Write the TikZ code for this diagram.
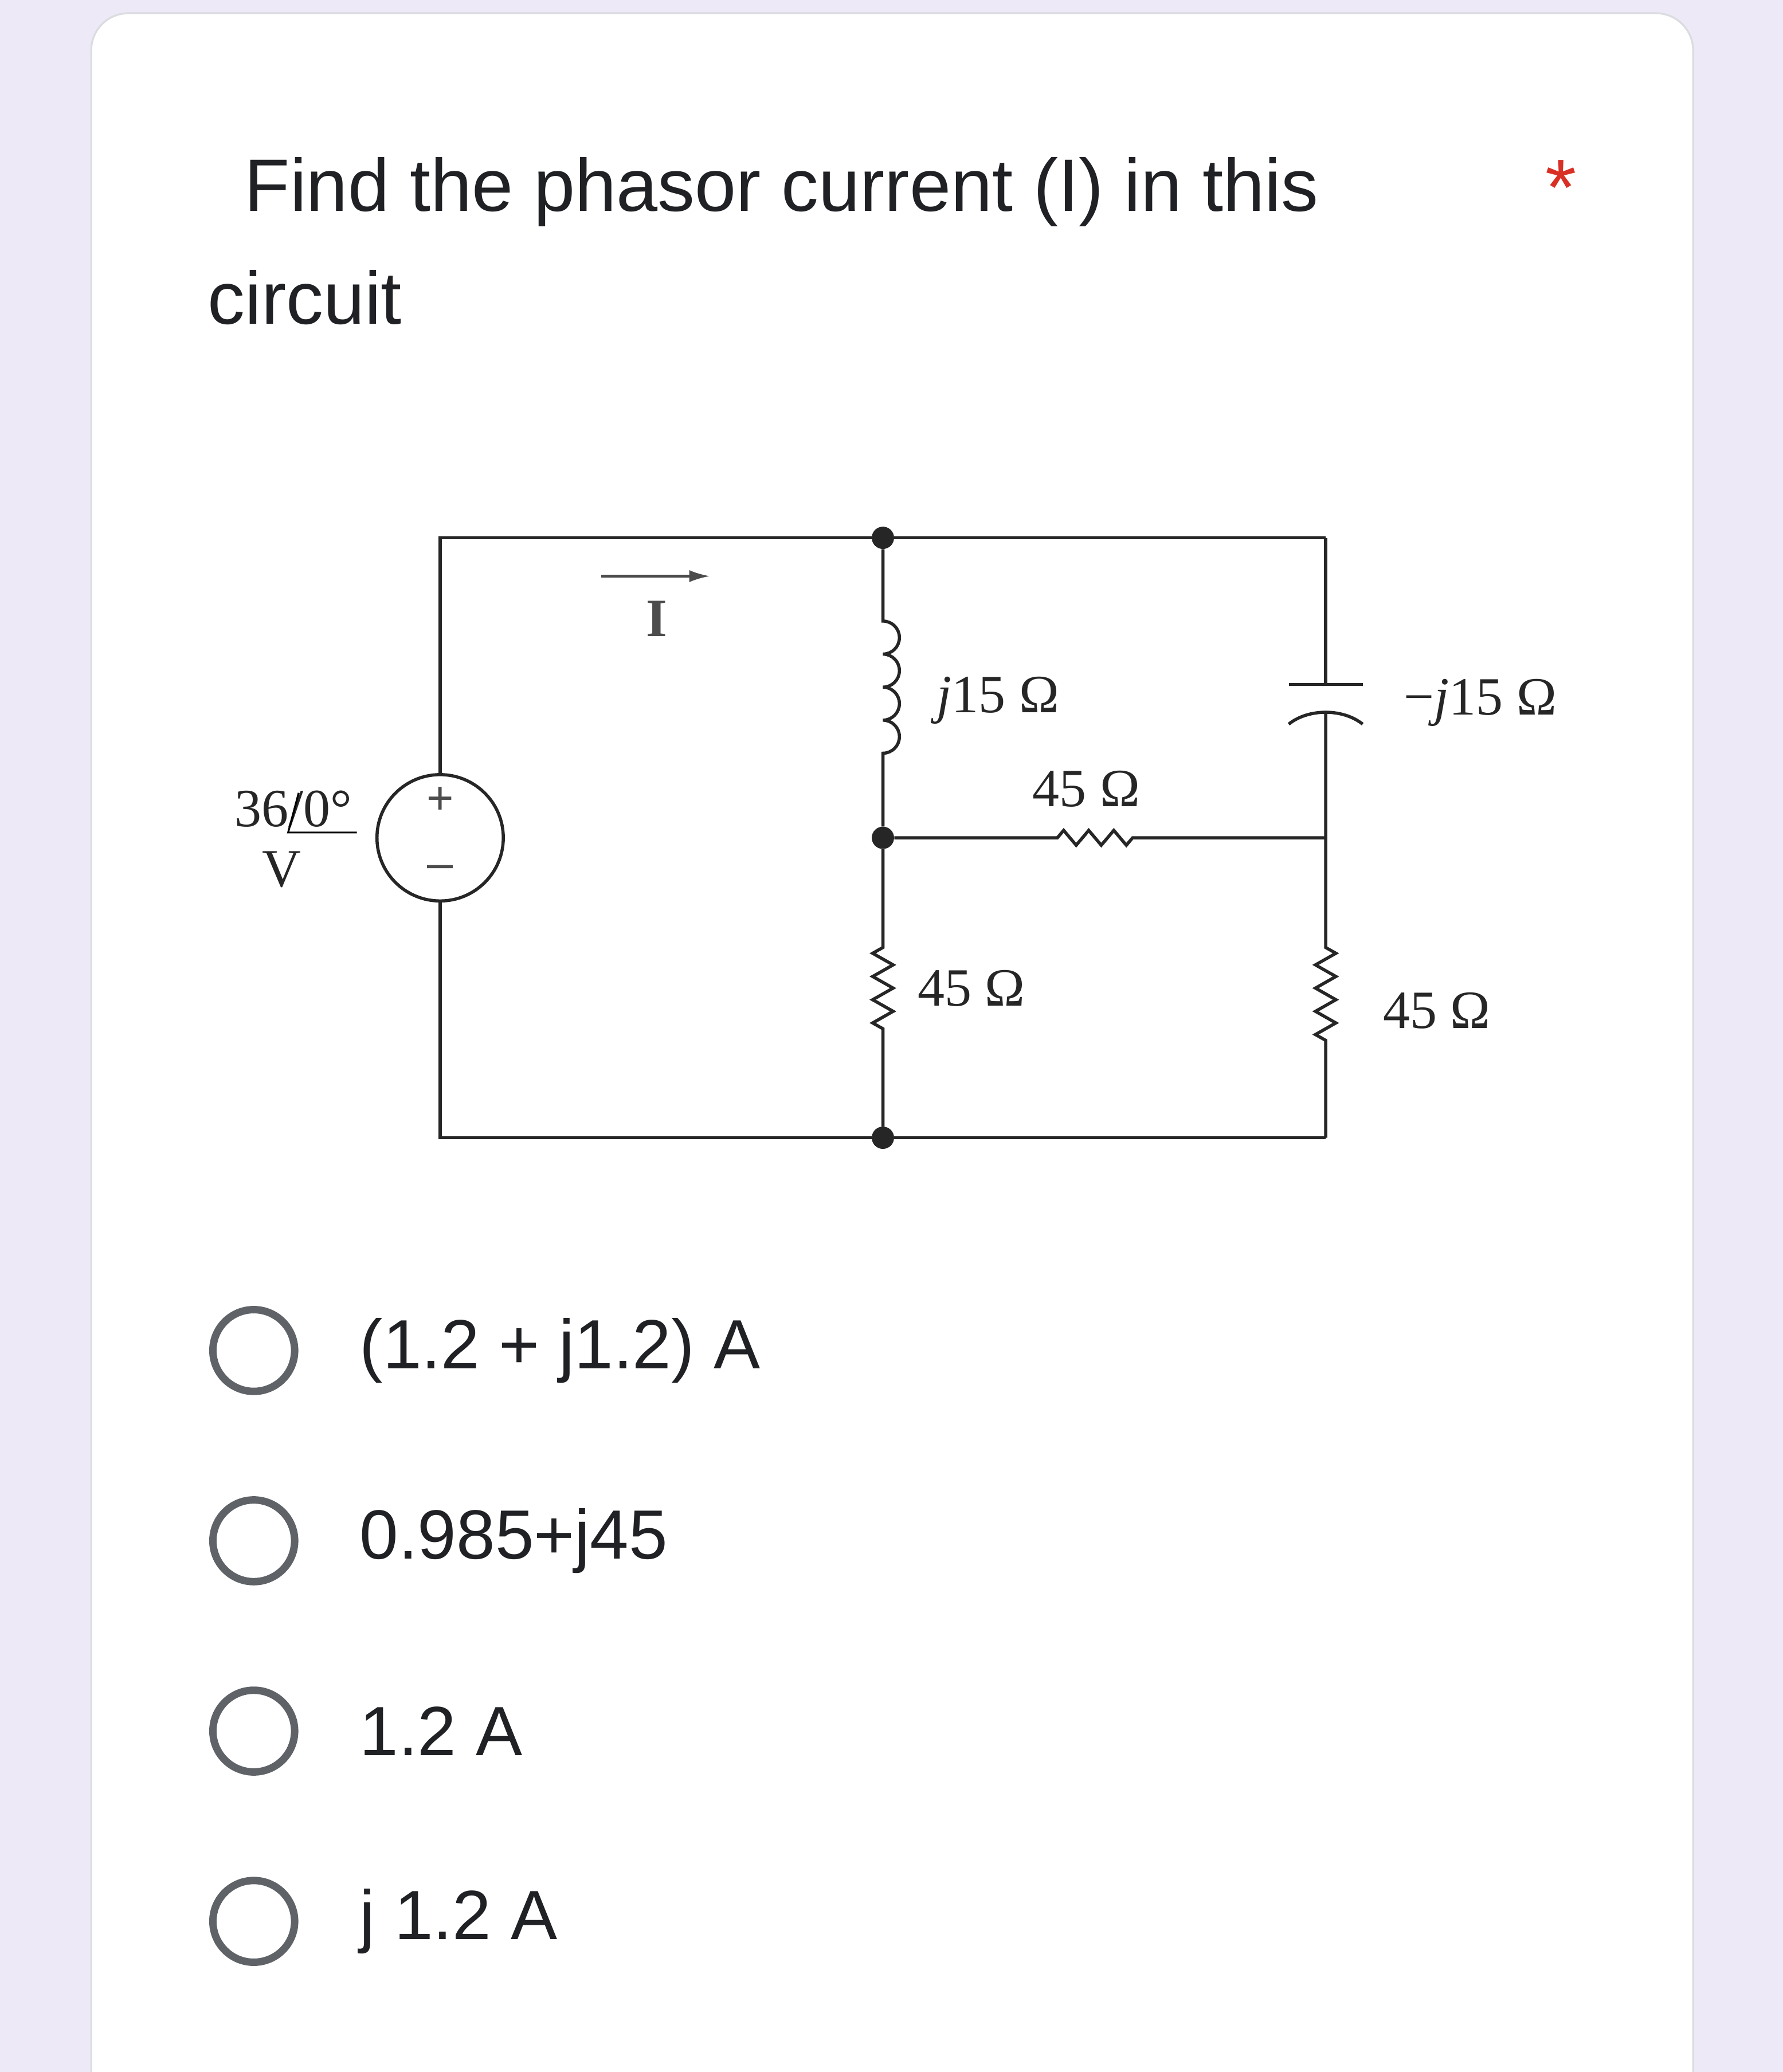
\documentclass[tikz,border=0pt]{standalone}
\usepackage{fontspec}
\setmainfont{Liberation Sans}
\newfontfamily\ser{Liberation Serif}
\usetikzlibrary{arrows.meta,decorations.pathmorphing}
\definecolor{bg}{HTML}{EDE9F7}
\definecolor{cardline}{HTML}{DADCE0}
\definecolor{txt}{HTML}{202124}
\definecolor{radio}{HTML}{5F6368}
\definecolor{red}{HTML}{D93025}
\tikzset{
 wire/.style={line width=3.4pt,black!85},
 dot/.style={circle,fill=black!85,inner sep=0pt,minimum size=24pt},
 title/.style={anchor=base west,font=\fontsize{80}{100}\selectfont,text=txt,inner sep=0},
 opt/.style={anchor=west,font=\fontsize{75}{90}\selectfont,text=txt,inner sep=0},
 radiob/.style={circle,draw=radio,line width=8pt,minimum size=88pt,inner sep=0},
 clab/.style={font=\ser\fontsize{58}{66}\selectfont,text=black!85,inner sep=0},
 zz/.style={decorate,decoration={zigzag,segment length=25pt,amplitude=11pt}}
}
\begin{document}
\begin{tikzpicture}[x=0.05cm,y=-0.05cm]
\fill[bg] (0,0) rectangle (1349,1568);
\useasboundingbox (0,0) rectangle (1349,1568);
\draw[cardline,fill=white,line width=2pt,rounded corners=40pt] (69,1600) -- (69,10) -- (1281,10) -- (1281,1600);
\node[title] (t1) at (185,160) {Find the phasor current (I) in this};
\node[title] (t2) at (157,245) {circuit};
\node[font=\fontsize{86}{100}\selectfont,text=red] (star) at (1181,142) {*};
% nodes
\coordinate (tl) at (333,407); \coordinate (bl) at (333,861);
\node[dot] (nt) at (668,407) {}; \node[dot] (nm) at (668,634) {}; \node[dot] (nb) at (668,861) {};
\coordinate (tr) at (1003,407); \coordinate (mr) at (1003,634); \coordinate (br) at (1003,861);
\node[circle,draw=black!85,line width=3.4pt,minimum size=136pt,inner sep=0] (src) at (333,634) {};
\node[font=\fontsize{50}{50}\selectfont,text=black!70] (plus) at (333,606) {+};
\node[font=\fontsize{50}{50}\selectfont,text=black!70] (minus) at (333,660) {--};
\draw[wire] (src.north) -- (tl) -- (nt) -- (tr);
\draw[wire] (src.south) -- (bl) -- (nb) -- (br);
% inductor
\draw[wire] (nt) -- (668,470)
  \foreach \k in {0,1,2,3} { arc[start angle=-90,end angle=90,radius=12.5] }
  -- (nm);
% middle vertical resistor
\draw[wire] (nm) -- (668,717) decorate[zz,decoration={mirror}]{-- (668,785)} -- (nb);
% horizontal resistor
\draw[wire] (nm) -- (800,634) decorate[zz,decoration={segment length=27pt,amplitude=8pt}]{-- (858,634)} -- (mr);
% right branch
\draw[wire] (tr) -- (1003,518);
\draw[wire] (975,518) -- (1031,518);
\draw[wire] (975,548) .. controls (990,536) and (1016,536) .. (1031,548);
\draw[wire] (1003,538) -- (mr) -- (1003,717) decorate[zz]{-- (1003,790)} -- (br);
% labels
\node[clab] (l1) at (755,530) {\textit{j}15 Ω};
\node[clab] (l2) at (1120,532) {−\textit{j}15 Ω};
\node[clab] (l3) at (822,597) {45 Ω};
\node[clab] (l4) at (735,748) {45 Ω};
\node[clab] (l5) at (1087,765) {45 Ω};
\node[clab] (s1) at (222,612) {36/0°};
\draw[line width=2pt] (226,600) -- (218,630) -- (270,630);
\node[clab] (s2) at (213,658) {V};
\coordinate (a1) at (455,436); \coordinate (a2) at (537,436);
\draw[line width=2.5pt,black!70,-{Latex[length=22pt,width=13pt]}] (a1) -- (a2);
\node[clab,font=\ser\bfseries\fontsize{58}{66}\selectfont,text=black!70] (il) at (497,468) {I};
% options
\foreach \y/\t [count=\i] in {1022/(1.2 + j1.2) A,1166/0.985+j45,1310/1.2 A,1454/j 1.2 A}{
  \node[radiob] (r\i) at (192,\y) {};
  \node[opt] (o\i) at (272,\y) {\t};
}
\end{tikzpicture}
\end{document}
